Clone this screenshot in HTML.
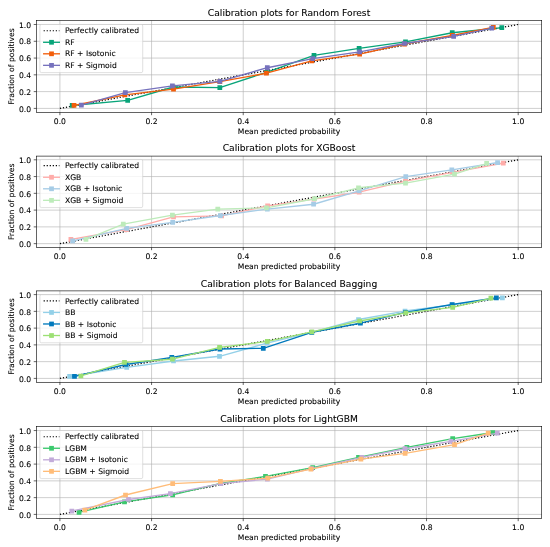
<!DOCTYPE html>
<html lang="en"><head><meta charset="utf-8"><title>Calibration plots</title>
<style>html,body{margin:0;padding:0;background:#fff}svg{display:block}text{font-family:"DejaVu Sans","Liberation Sans",sans-serif;fill:#000000;stroke:#000000;stroke-width:0.12}.t{font-size:10px}.h{font-size:12px}.m{text-anchor:middle}.e{text-anchor:end}.g{stroke:#b0b0b0;stroke-width:0.8;fill:none}.k{stroke:#000;stroke-width:0.8;fill:none}.d{stroke:#000;stroke-width:1.6;stroke-dasharray:1.6 2.375;fill:none}</style></head><body>
<svg width="550" height="547" viewBox="0 0 720 716.07">
<rect width="720" height="716.07" fill="#fff"/>
<g>
<path class="g" d="M78.43 147.27V26.84M198.41 147.27V26.84M318.4 147.27V26.84M438.39 147.27V26.84M558.37 147.27V26.84M678.36 147.27V26.84M47.65 141.91H709.13M47.65 119.94H709.13M47.65 97.97H709.13M47.65 76.01H709.13M47.65 54.04H709.13M47.65 32.07H709.13"/>
<path class="k" d="M78.43 147.27v3.5M198.41 147.27v3.5M318.4 147.27v3.5M438.39 147.27v3.5M558.37 147.27v3.5M678.36 147.27v3.5M47.65 141.91h-3.5M47.65 119.94h-3.5M47.65 97.97h-3.5M47.65 76.01h-3.5M47.65 54.04h-3.5M47.65 32.07h-3.5"/>
<text class="t m" x="78.43" y="162.67">0.0</text>
<text class="t m" x="198.41" y="162.67">0.2</text>
<text class="t m" x="318.4" y="162.67">0.4</text>
<text class="t m" x="438.39" y="162.67">0.6</text>
<text class="t m" x="558.37" y="162.67">0.8</text>
<text class="t m" x="678.36" y="162.67">1.0</text>
<text class="t e" x="40.65" y="146.11">0.0</text>
<text class="t e" x="40.65" y="124.14">0.2</text>
<text class="t e" x="40.65" y="102.17">0.4</text>
<text class="t e" x="40.65" y="80.21">0.6</text>
<text class="t e" x="40.65" y="58.24">0.8</text>
<text class="t e" x="40.65" y="36.27">1.0</text>
<text class="t m" x="378.39" y="175.55">Mean predicted probability</text>
<text class="t m" transform="translate(18.67 87.05) rotate(-90)">Fraction of positives</text>
<path class="d" d="M78.43 141.91L678.36 32.07"/>
<polyline points="94.49,138.06 167.12,131.39 226.84,113.9 287.76,114.78 348.74,94.66 411.04,72.53 470.11,63.23 530.85,54.87 592.01,42.85 656.89,36.18" fill="none" stroke="#08a479" stroke-width="1.75" stroke-linejoin="round" stroke-linecap="square"/>
<path d="M91.39 134.96h6.2v6.2h-6.2zM164.02 128.29h6.2v6.2h-6.2zM223.74 110.8h6.2v6.2h-6.2zM284.66 111.68h6.2v6.2h-6.2zM345.64 91.56h6.2v6.2h-6.2zM407.94 69.43h6.2v6.2h-6.2zM467.01 60.13h6.2v6.2h-6.2zM527.75 51.77h6.2v6.2h-6.2zM588.91 39.75h6.2v6.2h-6.2zM653.79 33.08h6.2v6.2h-6.2z" fill="#08a479"/>
<polyline points="96.89,138.06 163.51,124.29 227.14,116.74 287.76,106.8 348.74,95.86 408.16,79.58 470.77,70.83 529.53,57.61 592.01,46.46 645.79,35.74" fill="none" stroke="#f25d0a" stroke-width="1.75" stroke-linejoin="round" stroke-linecap="square"/>
<path d="M93.79 134.96h6.2v6.2h-6.2zM160.41 121.19h6.2v6.2h-6.2zM224.04 113.64h6.2v6.2h-6.2zM284.66 103.7h6.2v6.2h-6.2zM345.64 92.76h6.2v6.2h-6.2zM405.06 76.48h6.2v6.2h-6.2zM467.67 67.73h6.2v6.2h-6.2zM526.43 54.51h6.2v6.2h-6.2zM588.91 43.36h6.2v6.2h-6.2zM642.69 32.64h6.2v6.2h-6.2z" fill="#f25d0a"/>
<polyline points="106.49,137.62 164.11,121.33 225.7,112.48 287.76,106.58 349.94,88.65 409.36,76.74 470.77,67.94 529.53,56.95 593.87,47.66 643.69,36.95" fill="none" stroke="#7672bd" stroke-width="1.75" stroke-linejoin="round" stroke-linecap="square"/>
<path d="M103.39 134.52h6.2v6.2h-6.2zM161.01 118.23h6.2v6.2h-6.2zM222.6 109.38h6.2v6.2h-6.2zM284.66 103.48h6.2v6.2h-6.2zM346.84 85.55h6.2v6.2h-6.2zM406.26 73.64h6.2v6.2h-6.2zM467.67 64.84h6.2v6.2h-6.2zM526.43 53.85h6.2v6.2h-6.2zM590.77 44.56h6.2v6.2h-6.2zM640.59 33.85h6.2v6.2h-6.2z" fill="#7672bd"/>
<rect class="k" x="47.65" y="26.84" width="661.48" height="120.44"/>
<text class="h m" x="378.39" y="20.64">Calibration plots for Random Forest</text>
<rect x="52.25" y="32.04" width="134.6" height="63" rx="2" fill="#fff" fill-opacity="0.8" stroke="#ccc" stroke-opacity="0.8" stroke-width="1"/>
<path class="d" d="M57.1 40.24H77.8"/>
<text class="t" x="85.05" y="43.74">Perfectly calibrated</text>
<path d="M56.35 55.34H78.55" stroke="#08a479" stroke-width="1.75" fill="none"/>
<rect x="64.35" y="52.24" width="6.2" height="6.2" fill="#08a479"/>
<text class="t" x="85.05" y="58.84">RF</text>
<path d="M56.35 70.44H78.55" stroke="#f25d0a" stroke-width="1.75" fill="none"/>
<rect x="64.35" y="67.34" width="6.2" height="6.2" fill="#f25d0a"/>
<text class="t" x="85.05" y="73.94">RF + Isotonic</text>
<path d="M56.35 85.54H78.55" stroke="#7672bd" stroke-width="1.75" fill="none"/>
<rect x="64.35" y="82.44" width="6.2" height="6.2" fill="#7672bd"/>
<text class="t" x="85.05" y="89.04">RF + Sigmoid</text>
</g>
<g>
<path class="g" d="M78.43 324V204.35M198.41 324V204.35M318.4 324V204.35M438.39 324V204.35M558.37 324V204.35M678.36 324V204.35M47.65 318.96H709.13M47.65 297.01H709.13M47.65 275.05H709.13M47.65 253.1H709.13M47.65 231.15H709.13M47.65 209.19H709.13"/>
<path class="k" d="M78.43 324v3.5M198.41 324v3.5M318.4 324v3.5M438.39 324v3.5M558.37 324v3.5M678.36 324v3.5M47.65 318.96h-3.5M47.65 297.01h-3.5M47.65 275.05h-3.5M47.65 253.1h-3.5M47.65 231.15h-3.5M47.65 209.19h-3.5"/>
<text class="t m" x="78.43" y="339.4">0.0</text>
<text class="t m" x="198.41" y="339.4">0.2</text>
<text class="t m" x="318.4" y="339.4">0.4</text>
<text class="t m" x="438.39" y="339.4">0.6</text>
<text class="t m" x="558.37" y="339.4">0.8</text>
<text class="t m" x="678.36" y="339.4">1.0</text>
<text class="t e" x="40.65" y="323.16">0.0</text>
<text class="t e" x="40.65" y="301.21">0.2</text>
<text class="t e" x="40.65" y="279.25">0.4</text>
<text class="t e" x="40.65" y="257.3">0.6</text>
<text class="t e" x="40.65" y="235.35">0.8</text>
<text class="t e" x="40.65" y="213.39">1.0</text>
<text class="t m" x="378.39" y="352.28">Mean predicted probability</text>
<text class="t m" transform="translate(18.67 264.17) rotate(-90)">Fraction of positives</text>
<path class="d" d="M78.43 318.96L678.36 209.19"/>
<polyline points="92.81,313.5 165.5,300.49 227.14,283.98 290.16,282.56 350.3,269.44 411.04,260.64 470.11,251.63 530.85,237.2 592.37,225.61 658.87,213.64" fill="none" stroke="#ffaca9" stroke-width="1.75" stroke-linejoin="round" stroke-linecap="square"/>
<path d="M89.71 310.4h6.2v6.2h-6.2zM162.4 297.39h6.2v6.2h-6.2zM224.04 280.88h6.2v6.2h-6.2zM287.06 279.46h6.2v6.2h-6.2zM347.2 266.34h6.2v6.2h-6.2zM407.94 257.54h6.2v6.2h-6.2zM467.01 248.53h6.2v6.2h-6.2zM527.75 234.1h6.2v6.2h-6.2zM589.27 222.51h6.2v6.2h-6.2zM655.77 210.54h6.2v6.2h-6.2z" fill="#ffaca9"/>
<polyline points="95.09,315.46 165.92,298.85 226.06,291.14 288.54,282.12 349.94,273.71 410.5,267.37 470.11,249.88 531.21,231.29 591.47,222.44 651.37,212.85" fill="none" stroke="#a6cce6" stroke-width="1.75" stroke-linejoin="round" stroke-linecap="square"/>
<path d="M91.99 312.36h6.2v6.2h-6.2zM162.82 295.75h6.2v6.2h-6.2zM222.96 288.04h6.2v6.2h-6.2zM285.44 279.02h6.2v6.2h-6.2zM346.84 270.61h6.2v6.2h-6.2zM407.4 264.27h6.2v6.2h-6.2zM467.01 246.78h6.2v6.2h-6.2zM528.11 228.19h6.2v6.2h-6.2zM588.37 219.34h6.2v6.2h-6.2zM648.27 209.75h6.2v6.2h-6.2z" fill="#a6cce6"/>
<polyline points="112.5,313.5 161.41,293.38 225.7,281.58 285.12,273.71 348.74,272.07 411.7,260.15 469.33,245.83 530.85,239.71 595.01,227.91 637.09,214.02" fill="none" stroke="#bdebba" stroke-width="1.75" stroke-linejoin="round" stroke-linecap="square"/>
<path d="M109.4 310.4h6.2v6.2h-6.2zM158.31 290.28h6.2v6.2h-6.2zM222.6 278.48h6.2v6.2h-6.2zM282.02 270.61h6.2v6.2h-6.2zM345.64 268.97h6.2v6.2h-6.2zM408.6 257.05h6.2v6.2h-6.2zM466.23 242.73h6.2v6.2h-6.2zM527.75 236.61h6.2v6.2h-6.2zM591.91 224.81h6.2v6.2h-6.2zM633.99 210.92h6.2v6.2h-6.2z" fill="#bdebba"/>
<rect class="k" x="47.65" y="204.35" width="661.48" height="119.65"/>
<text class="h m" x="378.39" y="197.65">Calibration plots for XGBoost</text>
<rect x="52.25" y="208.75" width="134.6" height="63" rx="2" fill="#fff" fill-opacity="0.8" stroke="#ccc" stroke-opacity="0.8" stroke-width="1"/>
<path class="d" d="M57.1 216.95H77.8"/>
<text class="t" x="85.05" y="220.45">Perfectly calibrated</text>
<path d="M56.35 232.05H78.55" stroke="#ffaca9" stroke-width="1.75" fill="none"/>
<rect x="64.35" y="228.95" width="6.2" height="6.2" fill="#ffaca9"/>
<text class="t" x="85.05" y="235.55">XGB</text>
<path d="M56.35 247.15H78.55" stroke="#a6cce6" stroke-width="1.75" fill="none"/>
<rect x="64.35" y="244.05" width="6.2" height="6.2" fill="#a6cce6"/>
<text class="t" x="85.05" y="250.65">XGB + Isotonic</text>
<path d="M56.35 262.25H78.55" stroke="#bdebba" stroke-width="1.75" fill="none"/>
<rect x="64.35" y="259.15" width="6.2" height="6.2" fill="#bdebba"/>
<text class="t" x="85.05" y="265.75">XGB + Sigmoid</text>
</g>
<g>
<path class="g" d="M78.43 500.47V380.81M198.41 500.47V380.81M318.4 500.47V380.81M438.39 500.47V380.81M558.37 500.47V380.81M678.36 500.47V380.81M47.65 495.36H709.13M47.65 473.42H709.13M47.65 451.48H709.13M47.65 429.54H709.13M47.65 407.6H709.13M47.65 385.66H709.13"/>
<path class="k" d="M78.43 500.47v3.5M198.41 500.47v3.5M318.4 500.47v3.5M438.39 500.47v3.5M558.37 500.47v3.5M678.36 500.47v3.5M47.65 495.36h-3.5M47.65 473.42h-3.5M47.65 451.48h-3.5M47.65 429.54h-3.5M47.65 407.6h-3.5M47.65 385.66h-3.5"/>
<text class="t m" x="78.43" y="515.87">0.0</text>
<text class="t m" x="198.41" y="515.87">0.2</text>
<text class="t m" x="318.4" y="515.87">0.4</text>
<text class="t m" x="438.39" y="515.87">0.6</text>
<text class="t m" x="558.37" y="515.87">0.8</text>
<text class="t m" x="678.36" y="515.87">1.0</text>
<text class="t e" x="40.65" y="499.56">0.0</text>
<text class="t e" x="40.65" y="477.62">0.2</text>
<text class="t e" x="40.65" y="455.68">0.4</text>
<text class="t e" x="40.65" y="433.74">0.6</text>
<text class="t e" x="40.65" y="411.8">0.8</text>
<text class="t e" x="40.65" y="389.86">1.0</text>
<text class="t m" x="378.39" y="528.75">Mean predicted probability</text>
<text class="t m" transform="translate(18.67 440.64) rotate(-90)">Fraction of positives</text>
<path class="d" d="M78.43 495.36L678.36 385.66"/>
<polyline points="91.13,492.76 165.86,480.84 227.14,472.58 287.34,466.41 349.4,449.28 407.8,435.04 469.33,418.25 530.25,407.17 591.47,399.19 657.67,389.84" fill="none" stroke="#93d0e8" stroke-width="1.75" stroke-linejoin="round" stroke-linecap="square"/>
<path d="M88.03 489.66h6.2v6.2h-6.2zM162.76 477.74h6.2v6.2h-6.2zM224.04 469.48h6.2v6.2h-6.2zM284.24 463.31h6.2v6.2h-6.2zM346.3 446.18h6.2v6.2h-6.2zM404.7 431.94h6.2v6.2h-6.2zM466.23 415.15h6.2v6.2h-6.2zM527.15 404.07h6.2v6.2h-6.2zM588.37 396.09h6.2v6.2h-6.2zM654.57 386.74h6.2v6.2h-6.2z" fill="#93d0e8"/>
<polyline points="97.49,492.76 164.96,477.13 224.92,467.87 288,456.9 344.66,455.95 408.16,435.04 471.79,423.13 530.85,408.81 592.01,398.64 649.81,389.84" fill="none" stroke="#0079bc" stroke-width="1.75" stroke-linejoin="round" stroke-linecap="square"/>
<path d="M94.39 489.66h6.2v6.2h-6.2zM161.86 474.03h6.2v6.2h-6.2zM221.82 464.77h6.2v6.2h-6.2zM284.9 453.8h6.2v6.2h-6.2zM341.56 452.85h6.2v6.2h-6.2zM405.06 431.94h6.2v6.2h-6.2zM468.69 420.03h6.2v6.2h-6.2zM527.75 405.71h6.2v6.2h-6.2zM588.91 395.54h6.2v6.2h-6.2zM646.71 386.74h6.2v6.2h-6.2z" fill="#0079bc"/>
<polyline points="105.89,492.21 162.97,474.39 225.7,470.24 287.46,454.77 349.94,446.96 408.16,434.5 470.77,420.22 531.21,409.49 592.61,402.28 642.61,390.37" fill="none" stroke="#9ce074" stroke-width="1.75" stroke-linejoin="round" stroke-linecap="square"/>
<path d="M102.79 489.11h6.2v6.2h-6.2zM159.87 471.29h6.2v6.2h-6.2zM222.6 467.14h6.2v6.2h-6.2zM284.36 451.67h6.2v6.2h-6.2zM346.84 443.86h6.2v6.2h-6.2zM405.06 431.4h6.2v6.2h-6.2zM467.67 417.12h6.2v6.2h-6.2zM528.11 406.39h6.2v6.2h-6.2zM589.51 399.18h6.2v6.2h-6.2zM639.51 387.27h6.2v6.2h-6.2z" fill="#9ce074"/>
<rect class="k" x="47.65" y="380.81" width="661.48" height="119.65"/>
<text class="h m" x="378.39" y="375.21">Calibration plots for Balanced Bagging</text>
<rect x="52.25" y="385.71" width="134.6" height="63" rx="2" fill="#fff" fill-opacity="0.8" stroke="#ccc" stroke-opacity="0.8" stroke-width="1"/>
<path class="d" d="M57.1 393.91H77.8"/>
<text class="t" x="85.05" y="397.41">Perfectly calibrated</text>
<path d="M56.35 409.01H78.55" stroke="#93d0e8" stroke-width="1.75" fill="none"/>
<rect x="64.35" y="405.91" width="6.2" height="6.2" fill="#93d0e8"/>
<text class="t" x="85.05" y="412.51">BB</text>
<path d="M56.35 424.11H78.55" stroke="#0079bc" stroke-width="1.75" fill="none"/>
<rect x="64.35" y="421.01" width="6.2" height="6.2" fill="#0079bc"/>
<text class="t" x="85.05" y="427.61">BB + Isotonic</text>
<path d="M56.35 439.21H78.55" stroke="#9ce074" stroke-width="1.75" fill="none"/>
<rect x="64.35" y="436.11" width="6.2" height="6.2" fill="#9ce074"/>
<text class="t" x="85.05" y="442.71">BB + Sigmoid</text>
</g>
<g>
<path class="g" d="M78.43 678.76V558.33M198.41 678.76V558.33M318.4 678.76V558.33M438.39 678.76V558.33M558.37 678.76V558.33M678.36 678.76V558.33M47.65 673.4H709.13M47.65 651.44H709.13M47.65 629.49H709.13M47.65 607.54H709.13M47.65 585.58H709.13M47.65 563.63H709.13"/>
<path class="k" d="M78.43 678.76v3.5M198.41 678.76v3.5M318.4 678.76v3.5M438.39 678.76v3.5M558.37 678.76v3.5M678.36 678.76v3.5M47.65 673.4h-3.5M47.65 651.44h-3.5M47.65 629.49h-3.5M47.65 607.54h-3.5M47.65 585.58h-3.5M47.65 563.63h-3.5"/>
<text class="t m" x="78.43" y="694.16">0.0</text>
<text class="t m" x="198.41" y="694.16">0.2</text>
<text class="t m" x="318.4" y="694.16">0.4</text>
<text class="t m" x="438.39" y="694.16">0.6</text>
<text class="t m" x="558.37" y="694.16">0.8</text>
<text class="t m" x="678.36" y="694.16">1.0</text>
<text class="t e" x="40.65" y="677.6">0.0</text>
<text class="t e" x="40.65" y="655.64">0.2</text>
<text class="t e" x="40.65" y="633.69">0.4</text>
<text class="t e" x="40.65" y="611.74">0.6</text>
<text class="t e" x="40.65" y="589.78">0.8</text>
<text class="t e" x="40.65" y="567.83">1.0</text>
<text class="t m" x="378.39" y="707.04">Mean predicted probability</text>
<text class="t m" transform="translate(18.67 618.55) rotate(-90)">Fraction of positives</text>
<path class="d" d="M78.43 673.4L678.36 563.63"/>
<polyline points="103.49,670.64 162.97,657.05 226.06,647.86 288.54,632.67 347.54,623.65 409.36,612.12 469.33,598.67 532.65,585.56 592.61,574.19 645.01,566.32" fill="none" stroke="#3cc96e" stroke-width="1.75" stroke-linejoin="round" stroke-linecap="square"/>
<path d="M100.39 667.54h6.2v6.2h-6.2zM159.87 653.95h6.2v6.2h-6.2zM222.96 644.76h6.2v6.2h-6.2zM285.44 629.57h6.2v6.2h-6.2zM344.44 620.55h6.2v6.2h-6.2zM406.26 609.02h6.2v6.2h-6.2zM466.23 595.57h6.2v6.2h-6.2zM529.55 582.46h6.2v6.2h-6.2zM589.51 571.09h6.2v6.2h-6.2zM641.91 563.22h6.2v6.2h-6.2z" fill="#3cc96e"/>
<polyline points="94.01,668.96 168.2,653.88 223.06,646.17 289.2,633.11 349.94,627.2 407.8,613.54 473.65,598.67 530.31,587.42 590.27,577.83 651.01,567.08" fill="none" stroke="#c2abd9" stroke-width="1.75" stroke-linejoin="round" stroke-linecap="square"/>
<path d="M90.91 665.86h6.2v6.2h-6.2zM165.1 650.78h6.2v6.2h-6.2zM219.96 643.07h6.2v6.2h-6.2zM286.1 630.01h6.2v6.2h-6.2zM346.84 624.1h6.2v6.2h-6.2zM404.7 610.44h6.2v6.2h-6.2zM470.55 595.57h6.2v6.2h-6.2zM527.21 584.32h6.2v6.2h-6.2zM587.17 574.73h6.2v6.2h-6.2zM647.91 563.98h6.2v6.2h-6.2z" fill="#c2abd9"/>
<polyline points="111.12,667.76 164.29,648 226.06,633.11 288.54,630.07 350.6,626 406.96,614.09 472.45,601 530.31,593.43 595.01,582.06 639.13,567.08" fill="none" stroke="#ffbc78" stroke-width="1.75" stroke-linejoin="round" stroke-linecap="square"/>
<path d="M108.02 664.66h6.2v6.2h-6.2zM161.19 644.9h6.2v6.2h-6.2zM222.96 630.01h6.2v6.2h-6.2zM285.44 626.97h6.2v6.2h-6.2zM347.5 622.9h6.2v6.2h-6.2zM403.86 610.99h6.2v6.2h-6.2zM469.35 597.9h6.2v6.2h-6.2zM527.21 590.33h6.2v6.2h-6.2zM591.91 578.96h6.2v6.2h-6.2zM636.03 563.98h6.2v6.2h-6.2z" fill="#ffbc78"/>
<rect class="k" x="47.65" y="558.33" width="661.48" height="120.44"/>
<text class="h m" x="378.39" y="552.13">Calibration plots for LightGBM</text>
<rect x="52.25" y="563.53" width="134.6" height="63" rx="2" fill="#fff" fill-opacity="0.8" stroke="#ccc" stroke-opacity="0.8" stroke-width="1"/>
<path class="d" d="M57.1 571.73H77.8"/>
<text class="t" x="85.05" y="575.23">Perfectly calibrated</text>
<path d="M56.35 586.83H78.55" stroke="#3cc96e" stroke-width="1.75" fill="none"/>
<rect x="64.35" y="583.73" width="6.2" height="6.2" fill="#3cc96e"/>
<text class="t" x="85.05" y="590.33">LGBM</text>
<path d="M56.35 601.93H78.55" stroke="#c2abd9" stroke-width="1.75" fill="none"/>
<rect x="64.35" y="598.83" width="6.2" height="6.2" fill="#c2abd9"/>
<text class="t" x="85.05" y="605.43">LGBM + Isotonic</text>
<path d="M56.35 617.03H78.55" stroke="#ffbc78" stroke-width="1.75" fill="none"/>
<rect x="64.35" y="613.93" width="6.2" height="6.2" fill="#ffbc78"/>
<text class="t" x="85.05" y="620.53">LGBM + Sigmoid</text>
</g>
</svg></body></html>
